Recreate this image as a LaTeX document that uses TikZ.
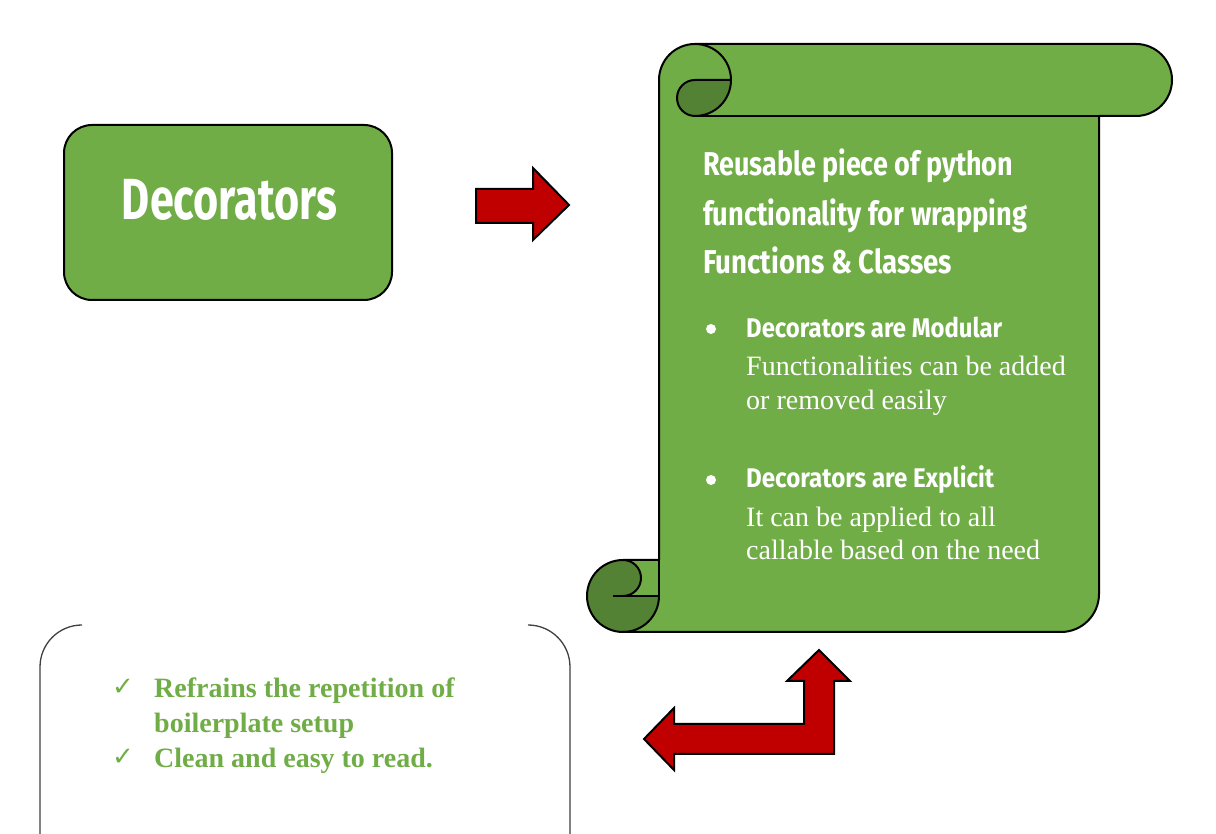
\documentclass[tikz,border=0pt]{standalone}
\usepackage{fontspec}
\usepackage{graphicx}
\setmainfont{Liberation Serif}
\newfontfamily\condf{Fira Sans}
\newfontfamily\symf{DejaVu Sans}
\definecolor{scrollgreen}{HTML}{70AD47}
\definecolor{curlgreen}{HTML}{548235}
\definecolor{arrowred}{HTML}{C00000}
\newcommand\fitw[2]{\resizebox{#1}{\height}{#2}}
\begin{document}
\begin{tikzpicture}[x=1pt,y=1pt,
  outline/.style={draw=black,line width=2pt,line join=round},
  redarrow/.style={fill=arrowred,draw=black,line width=2pt,line join=miter},
  condtext/.style={anchor=base west,inner sep=0pt,text=white},
  serifw/.style={anchor=base west,inner sep=0pt,text=white,font=\fontsize{28}{34}\selectfont},
  checktext/.style={anchor=base west,inner sep=0pt,text=scrollgreen,font=\bfseries\fontsize{28}{34}\selectfont},
  checkmark/.style={anchor=base west,inner sep=0pt,text=scrollgreen,font=\symf\bfseries\fontsize{26}{30}\selectfont},
  bulletdot/.style={circle,fill=white,inner sep=0pt,minimum size=10pt}]
\useasboundingbox (0,0) rectangle (1216,834);
\fill[white] (0,0) rectangle (1216,834);

% Decorators box
\node[draw=black,line width=2pt,fill=scrollgreen,rounded corners=28pt,
      minimum width=328pt,minimum height=175pt,inner sep=0pt] (dec) at (228,621.5) {};
\node[anchor=base,inner sep=0pt,text=white] (dectext) at (229.5,614)
  {\fitw{215pt}{\condf\bfseries\fontsize{58}{62}\selectfont Decorators}};

% right arrow
\draw[redarrow] (476,645) -- (533,645) -- (533,666) -- (569,629) -- (533,594) -- (533,611) -- (476,611) -- cycle;

% scroll body
\fill[scrollgreen] (695,790) -- (1136,790) arc[start angle=90,end angle=-90,radius=36]
  -- (1099,718) -- (1099,240) arc[start angle=0,end angle=-90,radius=38]
  -- (623,202) arc[start angle=270,end angle=90,radius=36]
  -- (659,274) -- (659,754) arc[start angle=180,end angle=90,radius=36] -- cycle;
% top curl
\fill[curlgreen] (695,754) -- (731,754) arc[start angle=0,end angle=-90,radius=36]
  arc[start angle=270,end angle=90,radius=18] -- cycle;
% bottom curl
\fill[curlgreen] (623,238) circle[radius=36];
\fill[scrollgreen] (623,274) -- (659,274) -- (659,238) -- (623,238)
  arc[start angle=-90,end angle=90,radius=18] -- cycle;
% outlines
\draw[outline] (695,790) -- (1136,790) arc[start angle=90,end angle=-90,radius=36]
  -- (1099,718) -- (1099,240) arc[start angle=0,end angle=-90,radius=38]
  -- (623,202) arc[start angle=270,end angle=90,radius=36]
  -- (659,274) -- (659,754) arc[start angle=180,end angle=90,radius=36] -- cycle;
\draw[outline] (695,718) -- (1099,718);
\draw[outline] (695,790) arc[start angle=90,end angle=-90,radius=36]
  arc[start angle=270,end angle=90,radius=18] -- (731,754);
\draw[outline] (659,274) -- (659,238) -- (613,238);
\draw[outline] (623,238) arc[start angle=-90,end angle=90,radius=18];
\draw[outline] (659,238) arc[start angle=0,end angle=-90,radius=36];

% scroll text
\node[condtext] (h1) at (703,658) {\fitw{310pt}{\condf\bfseries\fontsize{33}{38}\selectfont Reusable piece of python}};
\node[condtext] (h2) at (703,608) {\fitw{324pt}{\condf\bfseries\fontsize{33}{38}\selectfont functionality for wrapping}};
\node[condtext] (h3) at (703,560) {\fitw{249pt}{\condf\bfseries\fontsize{33}{38}\selectfont Functions \& Classes}};

\node[bulletdot] (b1) at (711,505) {};
\node[condtext] (m1) at (746,496) {\fitw{256pt}{\condf\bfseries\fontsize{27}{32}\selectfont Decorators are Modular}};
\node[serifw] (m2) at (746,458) {Functionalities can be added};
\node[serifw] (m3) at (746,424) {or removed easily};

\node[bulletdot] (b2) at (711,354) {};
\node[condtext] (e1) at (746,346) {\fitw{248pt}{\condf\bfseries\fontsize{27}{32}\selectfont Decorators are Explicit}};
\node[serifw] (e2) at (746,307) {It can be applied to all};
\node[serifw] (e3) at (746,274) {callable based on the need};

% bent arrow
\draw[redarrow] (644,95) -- (674,126) -- (674,110) -- (804,110) -- (804,153) -- (787,153)
  -- (819,184) -- (850,153) -- (834,153) -- (834,80) -- (674,80) -- (674,64) -- cycle;

% bottom-left box (open top)
\draw[draw=black!75,line width=1.3pt] (40,0) -- (40,167) arc[start angle=180,end angle=90,radius=42];
\draw[draw=black!75,line width=1.3pt] (570,0) -- (570,167) arc[start angle=0,end angle=90,radius=42];

\node[checkmark] (c1) at (112,138) {✓};
\node[checktext] (t1) at (154,136) {Refrains the repetition of};
\node[checktext] (t2) at (154,101) {boilerplate setup};
\node[checkmark] (c2) at (112,68) {✓};
\node[checktext] (t3) at (154,66) {Clean and easy to read.};
\end{tikzpicture}
\end{document}
